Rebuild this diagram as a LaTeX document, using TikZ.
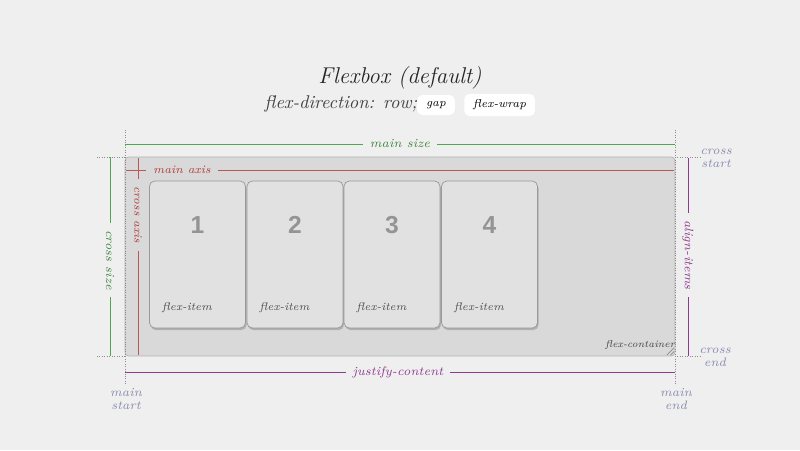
\documentclass[tikz,border=0pt]{standalone}
\usepackage{fontspec}
\newfontfamily\numfont{Liberation Sans}
\usetikzlibrary{positioning,shadows}

\definecolor{bgcol}{HTML}{EFEFEF}
\definecolor{boxcol}{HTML}{D9D9D9}
\definecolor{itemcol}{HTML}{E1E1E1}
\definecolor{sizegreen}{HTML}{4FA84F}
\definecolor{axisred}{HTML}{B03A3A}
\definecolor{alignpurple}{HTML}{8E3A8E}
\definecolor{endgray}{HTML}{8A8AB0}

\begin{document}
\begin{tikzpicture}[x=0.02cm, y=-0.02cm,
    hand/.style={font=\itshape\fontsize{7}{7.5}\selectfont, inner sep=1pt},
    container/.style={draw=black!30, fill=boxcol, rounded corners=2pt, minimum width=11cm, minimum height=3.98cm, inner sep=0pt},
    item/.style={draw=black!40, fill=itemcol, rounded corners=3pt, minimum width=1.92cm, minimum height=2.94cm, inner sep=0pt,
      drop shadow={shadow xshift=0.6pt, shadow yshift=-1.2pt, opacity=0.35, fill=black!60}},
    num/.style={font=\numfont\bfseries\fontsize{14}{14}\selectfont, text=black!42},
    btn/.style={fill=white, rounded corners=3pt, minimum height=0.4cm, inner xsep=5pt, font=\itshape\fontsize{6.5}{6.5}\selectfont},
    guide/.style={black!45, densely dotted, thin},
    sizeline/.style={sizegreen, thin},
    axisline/.style={axisred!85, thin},
    alignline/.style={alignpurple, thin},
    outlbl/.style={hand, fill=bgcol, inner xsep=4pt},
    inlbl/.style={hand, fill=boxcol, inner xsep=4pt},
    endlbl/.style={hand, text=endgray, align=center}
  ]
  \fill[bgcol] (0,0) rectangle (800,450);
  \useasboundingbox (0,0) rectangle (800,450);

  % Title
  \node[font=\itshape\fontsize{13}{13}\selectfont, text=black!85] (title) at (400,78) {Flexbox (default)};
  \node[font=\itshape\fontsize{10.5}{10.5}\selectfont, text=black!75] (dir) at (341,104) {flex-direction: row;};
  \node[btn] (gap) at (436,105) {gap};
  \node[btn, right=5pt of gap] (wrap) {flex-wrap};

  % Container and items
  \node[container] (box) at (400,256.5) {};
  \foreach \n/\x in {1/197.5, 2/295, 3/392, 4/489.5} {
    \node[item] (item\n) at (\x,254.5) {};
    \node[num] (num\n) at (\x,225) {\n};
    \node[hand, text=black!70, font=\itshape\fontsize{6.3}{6.3}\selectfont] (lbl\n) at (\x-10.5,308) {flex-item};
  }
  \node[hand, text=black!75, font=\itshape\fontsize{5.6}{5.6}\selectfont] (cname) at (640,345) {flex-container};
  \coordinate (grip) at (674,355);
  \draw[black!45] ([xshift=-4pt]grip) -- ([yshift=4pt]grip);
  \draw[black!45] ([xshift=-2pt]grip) -- ([yshift=2pt]grip);

  % Dotted guides
  \coordinate (gl1) at (125,130);  \coordinate (gl2) at (125,384);
  \coordinate (gr1) at (675,130);  \coordinate (gr2) at (675,384);
  \coordinate (gt1) at (97,157);   \coordinate (gt2) at (125,157);
  \coordinate (gt3) at (675,157);  \coordinate (gt4) at (702,157);
  \coordinate (gb1) at (97,356);   \coordinate (gb2) at (125,356);
  \coordinate (gb3) at (675,356);  \coordinate (gb4) at (702,356);
  \draw[guide] (gl1) -- (gl2);
  \draw[guide] (gr1) -- (gr2);
  \draw[guide] (gt1) -- (gt2);
  \draw[guide] (gt3) -- (gt4);
  \draw[guide] (gb1) -- (gb2);
  \draw[guide] (gb3) -- (gb4);

  % Main size
  \coordinate (ms1) at (125,144);  \coordinate (ms2) at (675,144);
  \draw[sizeline] (ms1) -- (ms2);
  \node[outlbl, text=sizegreen!80!black] (msize) at (400,144) {main size};

  % Cross size
  \coordinate (cs1) at (110,157);  \coordinate (cs2) at (110,356);
  \draw[sizeline] (cs1) -- (cs2);
  \node[outlbl, text=sizegreen!80!black, rotate=-90] (csize) at (110,260) {cross size};

  % Main axis
  \coordinate (ma1) at (126,170);  \coordinate (ma2) at (674,170);
  \draw[axisline] (ma1) -- (ma2);
  \node[inlbl, text=axisred, font=\itshape\fontsize{6.5}{6.5}\selectfont] (maxis) at (182,170) {main axis};

  % Cross axis
  \coordinate (ca1) at (138,158);  \coordinate (ca2) at (138,355);
  \draw[axisline] (ca1) -- (ca2);
  \node[inlbl, text=axisred, font=\itshape\fontsize{6.5}{6.5}\selectfont, rotate=-90] (caxis) at (138,215) {cross axis};

  % Align items
  \coordinate (ai1) at (688,158);  \coordinate (ai2) at (688,356);
  \draw[alignline] (ai1) -- (ai2);
  \node[outlbl, text=alignpurple, rotate=-90] (align) at (688,255) {align-items};

  % Justify content
  \coordinate (jc1) at (125,372);  \coordinate (jc2) at (675,372);
  \draw[alignline] (jc1) -- (jc2);
  \node[outlbl, text=alignpurple] (justify) at (398,372) {justify-content};

  % Start / end labels
  \node[endlbl] (mstart) at (126,399) {main\\start};
  \node[endlbl] (mend) at (676,399) {main\\end};
  \node[endlbl] (cstart) at (716,158) {cross\\start};
  \node[endlbl] (cend) at (715,357) {cross\\end};
\end{tikzpicture}
\end{document}
